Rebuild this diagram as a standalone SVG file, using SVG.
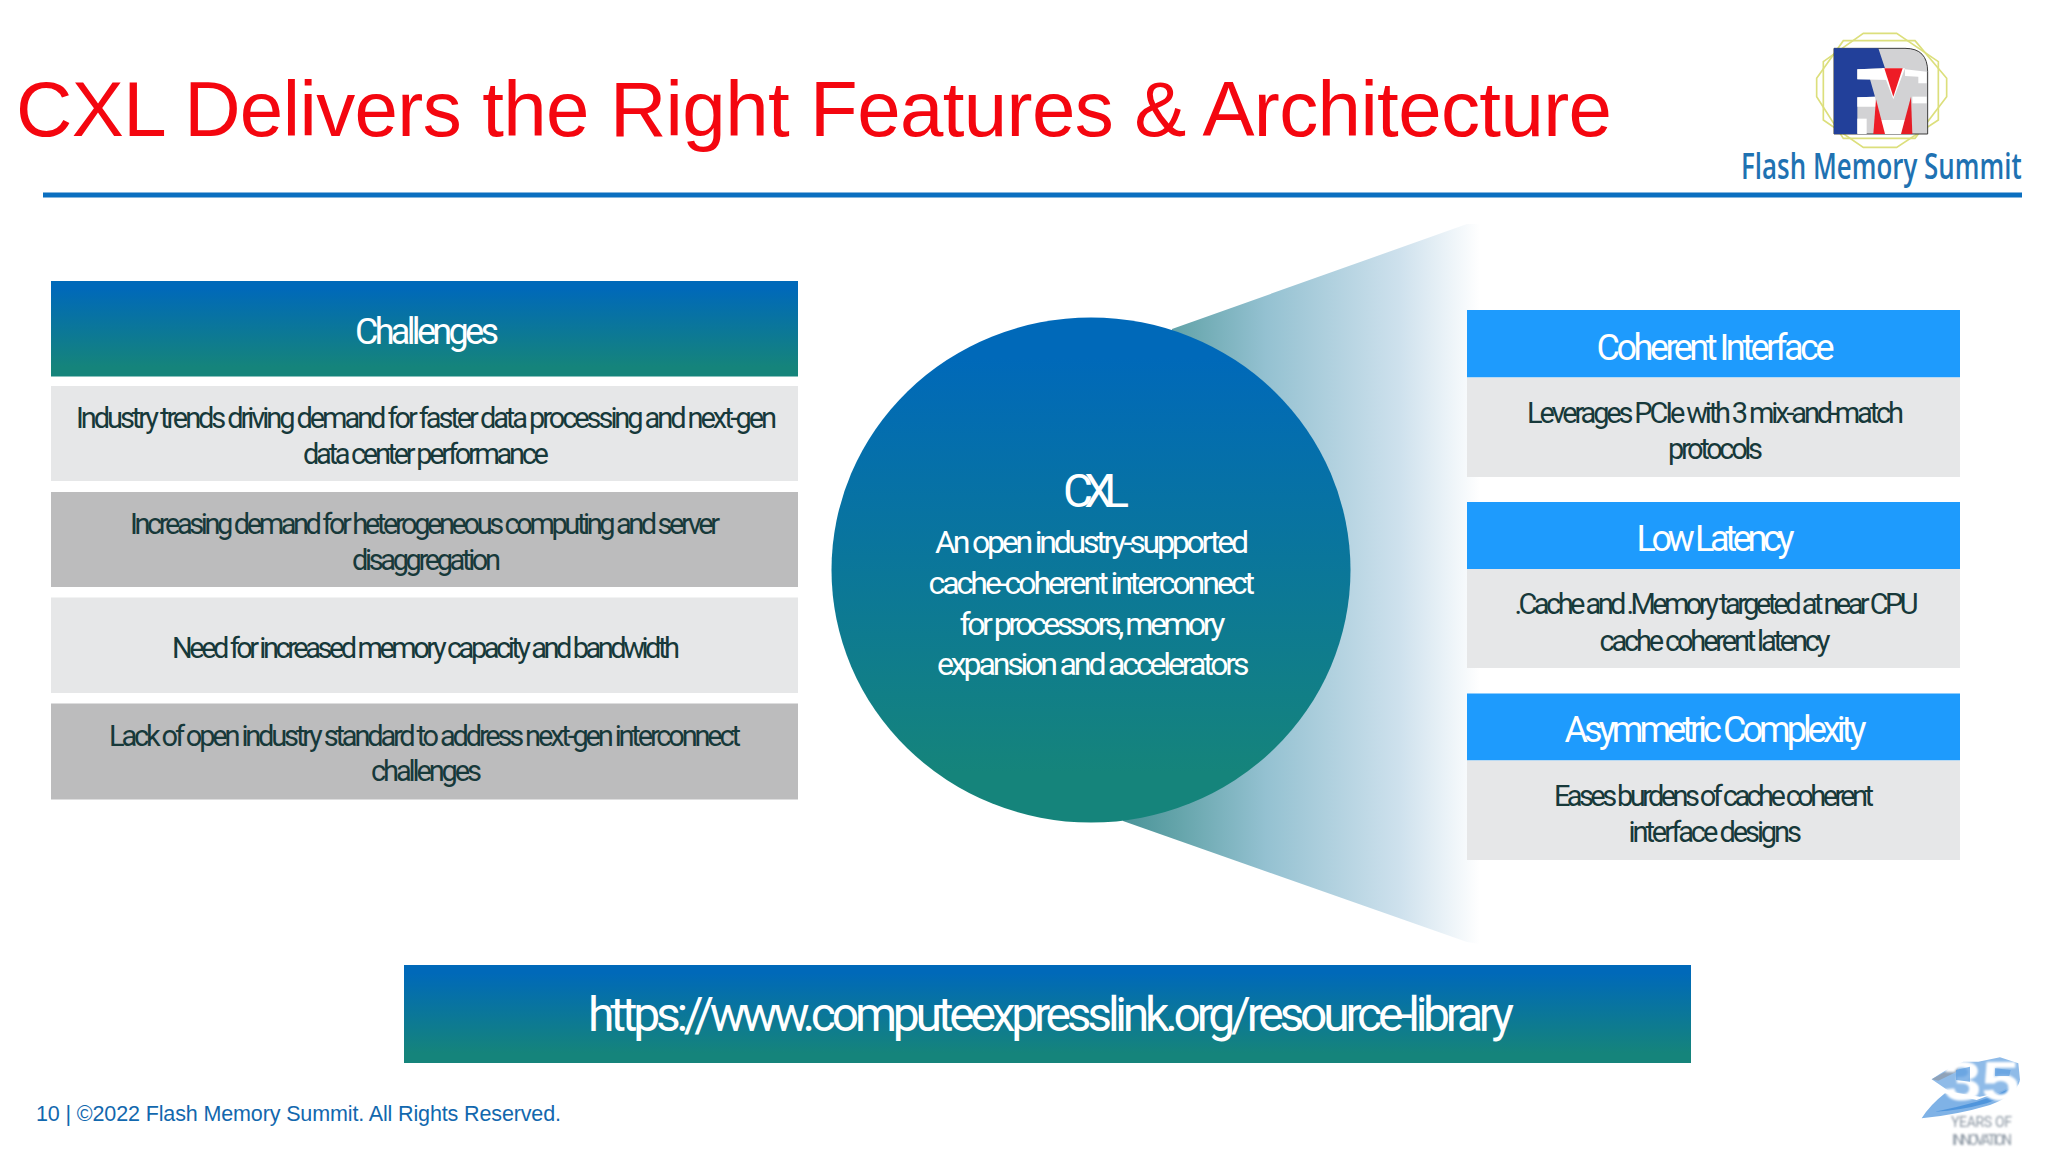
<svg xmlns="http://www.w3.org/2000/svg" width="2048" height="1152" viewBox="0 0 2048 1152">
<style>
text{font-family:"Roboto","Liberation Sans",sans-serif}
.h{font-size:36px;fill:#fff}
.b{font-size:29px;fill:#17393a}
.c{font-size:32px;fill:#fff}
.l{fill:#e6e7e8}
.d{fill:#bcbcbd}
.a{fill:#1e9bfd}
.o{fill:none;stroke:#dcdf7c;stroke-width:5}
</style>
<defs>
<linearGradient id="g" x1="0" y1="0" x2="0" y2="1"><stop offset="0.08" stop-color="#0069b9"/><stop offset="0.9" stop-color="#15847b"/></linearGradient>
<linearGradient id="cone" gradientUnits="userSpaceOnUse" x1="1125" y1="0" x2="1480" y2="0"><stop offset="0" stop-color="#4a9499"/><stop offset="0.146" stop-color="#64a4aa"/><stop offset="0.397" stop-color="#94c1d1"/><stop offset="0.775" stop-color="#cee1ed"/><stop offset="1" stop-color="#ffffff"/></linearGradient>
<filter id="s" x="-10%" y="-10%" width="120%" height="120%"><feGaussianBlur stdDeviation="1.4"/></filter>
<filter id="s2" x="-10%" y="-10%" width="120%" height="120%"><feGaussianBlur stdDeviation="0.8"/></filter>
</defs>
<rect width="2048" height="1152" fill="#fff"/>
<g id="title">
<text x="16" y="136" font-size="78" fill="#f4060f" style="font-family:'Liberation Sans',sans-serif" textLength="1596">CXL Delivers the Right Features &amp; Architecture</text>
<rect x="43" y="192.500" width="1979" height="5" fill="#0b6fc0"/>
</g>
<g id="fms-logo">
<g transform="translate(1720 0) scale(.33333)" filter="url(#s)">
<polygon class="o" points="430,100 530,100 655,185 655,360 530,442 430,442 310,360 310,185"/>
<polygon class="o" points="370,122 585,122 680,235 680,290 585,415 370,415 290,290 290,235"/>
<g transform="translate(315 120)">
<path d="M27 25H240Q308 25 308 95V282H27Z" fill="#d2d2d4" stroke="#3a3a3a" stroke-width="3"/>
<polygon fill="#20409a" points="27,25 160,25 180,85 97,88 97,118 135,118 150,170 97,172 97,282 27,282"/>
<polygon fill="#fff" points="97,88 180,85 190,120 97,118"/>
<polygon fill="#fff" points="97,172 150,170 155,200 97,200"/>
<polygon fill="#fff" points="97,236 125,236 125,282 97,282"/>
<polygon fill="#fff" points="240,88 305,95 305,130 280,130 280,110 240,108"/>
<polygon fill="#fff" points="262,170 305,170 305,190 262,190"/>
<polygon fill="#fff" points="170,85 240,85 205,178"/>
<polygon fill="#fff" points="165,240 250,240 240,282 175,282"/>
<polygon fill="#ee1c25" points="178,85 233,85 205,170"/>
<polygon fill="#ee1c25" points="153,178 180,282 145,282"/>
<polygon fill="#e51e28" points="258,170 262,282 228,282"/>
</g>
</g>
<text transform="translate(1741 179) scale(.7 1)" font-size="37" font-weight="600" fill="#1f72b2" style="font-family:'Open Sans',sans-serif" textLength="401">Flash Memory Summit</text>
</g>
<g id="challenges">
<g id="challenges-header"><rect x="51" y="281" width="747" height="95.500" fill="url(#g)"/><text class="h" x="355" y="344" textLength="144">Challenges</text></g>
<g id="challenge-1"><rect class="l" x="51" y="386" width="747" height="95"/><text class="b" x="76" y="428" textLength="701">Industry trends driving demand for faster data processing and next-gen</text><text class="b" x="303" y="464" textLength="246">data center performance</text></g>
<g id="challenge-2"><rect class="d" x="51" y="492" width="747" height="95"/><text class="b" x="130" y="534" textLength="590">Increasing demand for heterogeneous computing and server</text><text class="b" x="352" y="570" textLength="149">disaggregation</text></g>
<g id="challenge-3"><rect class="l" x="51" y="597.500" width="747" height="95.500"/><text class="b" x="172" y="658" textLength="508">Need for increased memory capacity and bandwidth</text></g>
<g id="challenge-4"><rect class="d" x="51" y="703.500" width="747" height="96"/><text class="b" x="109" y="746" textLength="632">Lack of open industry standard to address next-gen interconnect</text><text class="b" x="371" y="781" textLength="111">challenges</text></g>
</g>
<g id="cxl-hub">
<polygon points="1172,329 1467,224 1480,224 1480,944 1467,942 1123,821" fill="url(#cone)"/>
<ellipse cx="1091" cy="570" rx="259.500" ry="252.500" fill="url(#g)"/>
<text x="1063" y="506.500" font-size="46" fill="#fff" textLength="66">CXL</text>
<text class="c" x="935" y="553" textLength="314">An open industry-supported</text>
<text class="c" x="928.500" y="594" textLength="326.500">cache-coherent interconnect</text>
<text class="c" x="959.500" y="635" textLength="266">for processors, memory</text>
<text class="c" x="937" y="675" textLength="312.500">expansion and accelerators</text>
</g>
<g id="coherent-interface"><rect class="a" x="1467" y="310" width="493" height="67.500"/><rect class="l" x="1467" y="377.500" width="493" height="99.500"/><text class="h" x="1596.500" y="359.500" textLength="238">Coherent Interface</text><text class="b" x="1527" y="423" textLength="377">Leverages PCIe with 3 mix-and-match</text><text class="b" x="1668" y="459" textLength="95">protocols</text></g>
<g id="low-latency"><rect class="a" x="1467" y="502" width="493" height="67"/><rect class="l" x="1467" y="569" width="493" height="99"/><text class="h" x="1636.500" y="551" textLength="158">Low Latency</text><text class="b" x="1514.500" y="614" textLength="404">.Cache and .Memory targeted at near CPU</text><text class="b" x="1599.500" y="650.500" textLength="231">cache coherent latency</text></g>
<g id="asymmetric-complexity"><rect class="a" x="1467" y="693.500" width="493" height="67"/><rect class="l" x="1467" y="760.500" width="493" height="99.500"/><text class="h" x="1564.500" y="742" textLength="302">Asymmetric Complexity</text><text class="b" x="1554" y="805.500" textLength="320">Eases burdens of cache coherent</text><text class="b" x="1628.500" y="842" textLength="173.500">interface designs</text></g>
<g id="resource-link"><rect x="404" y="965" width="1287" height="98" fill="url(#g)"/><text x="588" y="1031" font-size="48" fill="#fff" textLength="926">https://www.computeexpresslink.org/resource-library</text></g>
<g id="footer"><text x="36" y="1120.500" font-size="21.500" fill="#1268ae" style="font-family:'Liberation Sans',sans-serif" textLength="525">10 | ©2022 Flash Memory Summit. All Rights Reserved.</text></g>
<g id="anniversary-badge">
<g transform="translate(1920 1050) scale(.33333)" filter="url(#s)">
<path d="M5 205Q30 165 75 130L170 150Q230 130 300 90Q290 135 210 165Q110 195 5 205Z" fill="#7fb2e6"/>
<path d="M45 185Q110 172 170 155Q240 135 295 100Q270 135 200 160Q120 182 45 185Z" fill="#4f95dc"/>
<path d="M35 88Q90 50 130 35L175 35L240 22L295 40L300 90Q250 130 180 140L90 125Z" fill="#8fbbe8"/>
<path d="M35 88L120 42L110 65L55 92Z" fill="#8fa2b8"/>
</g>
<text x="1943" y="1100" font-size="56" font-weight="700" fill="#fff" style="font-family:'Liberation Sans',sans-serif" filter="url(#s2)" textLength="77" lengthAdjust="spacingAndGlyphs">35</text>
<g transform="translate(1920 1050) scale(.33333)" filter="url(#s)">
<path d="M108 60L150 50L150 95L108 90Z" fill="#5f9fe0" opacity=".75"/>
<path d="M225 55L272 60L268 78L225 78Z" fill="#5f9fe0" opacity=".75"/>
</g>
<g fill="#8c97a3" filter="url(#s2)"><text x="1951" y="1127" font-size="14" textLength="61">YEARS OF</text><text x="1952" y="1145" font-size="14" textLength="60">INNOVATION</text></g>
</g>
</svg>
